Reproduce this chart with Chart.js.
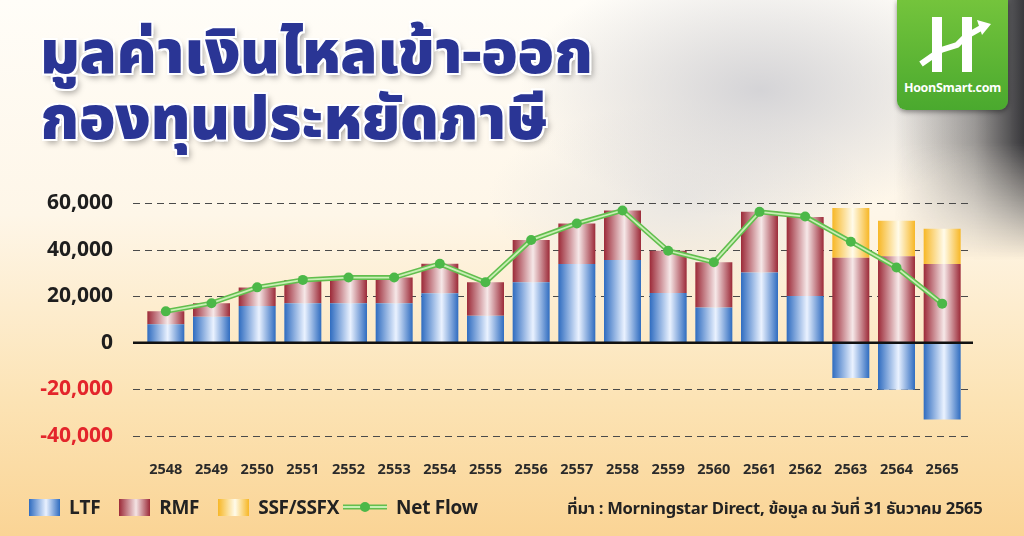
<!DOCTYPE html>
<html>
<head>
<meta charset="utf-8">
<script src="https://cdn.jsdelivr.net/npm/chart.js@4.4.0/dist/chart.umd.min.js"></script>
<style>
  html, body { margin: 0; padding: 0; }
  body { width: 1024px; height: 536px; overflow: hidden; font-family: "Noto Sans Thai", "Noto Sans", sans-serif; }
  .page {
    position: relative; width: 1024px; height: 536px;
    background: linear-gradient(to bottom, #fffdf8 0%, #fef6e8 40%, #fce3b4 75%, #fad495 100%);
  }
  .photo {
    position: absolute; left: 0; top: 0; width: 1024px; height: 300px;
    background:
      radial-gradient(ellipse 300px 160px at 760px 90px, rgba(205,205,210,0.85), rgba(225,225,225,0) 80%),
      radial-gradient(ellipse 240px 120px at 680px 200px, rgba(220,220,222,0.6), rgba(230,230,230,0) 80%);
  }
  .dark {
    position: absolute; right: 0; top: 0; width: 130px; height: 260px;
    background: linear-gradient(to left, rgba(35,35,40,0.9) 0px, rgba(60,60,65,0.5) 50px, rgba(90,90,90,0) 130px);
    -webkit-mask-image: linear-gradient(to bottom, #000 0%, #000 55%, transparent 100%);
    mask-image: linear-gradient(to bottom, #000 0%, #000 55%, transparent 100%);
  }
  .title {
    position: absolute; left: 40px; top: 22px; margin: 0;
    color: #2a3595; font-weight: 900; font-size: 60px; line-height: 66px;
    text-shadow: 2px 2px 0 #fff, -2px -2px 0 #fff, 2px -2px 0 #fff, -2px 2px 0 #fff, 3px 4px 6px rgba(0,0,0,0.35);
    white-space: nowrap;
  }
  .logo {
    position: absolute; left: 897px; top: 0; width: 111px; height: 110px;
    background: linear-gradient(to bottom, #74c43c, #4aa92e);
    border-radius: 0 0 9px 9px; box-shadow: 0 2px 5px rgba(0,0,0,0.4);
  }
  .logo span {
    position: absolute; left: 0; width: 111px; top: 79px; text-align: center;
    color: #fff; font-family: "Open Sans", sans-serif; font-weight: 700; font-size: 12.5px; letter-spacing: -0.3px;
  }
  .chartbox { position: absolute; left: 0; top: 0; width: 1024px; height: 536px; }
  .legend {
    position: absolute; left: 29px; top: 496px; height: 22px; display: flex; align-items: center;
    font-family: "Open Sans", sans-serif; font-weight: 700; font-size: 19px; color: #222; letter-spacing: -0.3px;
  }
  .legend .sw { width: 31px; height: 17px; margin-right: 9px; }
  .legend .item { display: flex; align-items: center; margin-right: 19px; }
  .source {
    position: absolute; left: 567px; top: 496px; font-weight: 700; font-size: 16.6px; color: #222; white-space: nowrap;
    letter-spacing: -0.3px;
  }
</style>
</head>
<body>
<div class="page">
  <div class="photo"></div>
  <div class="dark"></div>
  <h1 class="title">มูลค่าเงินไหลเข้า-ออก<br>กองทุนประหยัดภาษี</h1>
  <div class="logo">
    <svg width="111" height="80" viewBox="0 0 111 80">
      <rect x="35" y="17" width="10" height="55" fill="#fff"/>
      <rect x="65" y="17" width="10" height="55" fill="#fff"/>
      <polyline points="24,64 44,50 60,45 68,37 84,28" fill="none" stroke="#fff" stroke-width="6" stroke-linejoin="round"/>
      <polygon points="80,20 94,24 85,35" fill="#fff"/>
    </svg>
    <span>HoonSmart.com</span>
  </div>
  <div class="chartbox"><canvas id="flowChart"></canvas></div>
  <div class="legend">
    <div class="item"><div class="sw" style="background:linear-gradient(to right,#2f6cc0,#e9f1ff 55%,#2f6cc0)"></div>LTF</div>
    <div class="item"><div class="sw" style="background:linear-gradient(to right,#9c2a38,#f4e4e4 55%,#9c2a38)"></div>RMF</div>
    <div class="item" style="margin-right:3px"><div class="sw" style="background:linear-gradient(to right,#f7b726,#fffbea 55%,#f7b726)"></div>SSF/SSFX</div>
    <div class="item">
      <svg width="46" height="16" style="margin-right:8px"><line x1="1" y1="8" x2="45" y2="8" stroke="#62be4e" stroke-width="5"/><line x1="1" y1="8" x2="45" y2="8" stroke="#c8efb4" stroke-width="1.8"/><circle cx="23" cy="8" r="5" fill="#4cb848"/></svg>Net Flow
    </div>
  </div>
  <div class="source">ที่มา : Morningstar Direct, ข้อมูล ณ วันที่ 31 ธันวาคม 2565</div>
</div>

<script>
// years (Thai B.E.)
const years = ['2548','2549','2550','2551','2552','2553','2554','2555','2556','2557','2558','2559','2560','2561','2562','2563','2564','2565'];
// net flows, million baht
const ltf = [8000, 11200, 15800, 17000, 17000, 17000, 21300, 11600, 26000, 33800, 35500, 21400, 15200, 30200, 20100, -15100, -20100, -32900];
const rmf = [5500, 5800, 7900, 9900, 10600, 11000, 12600, 14400, 18100, 17400, 21300, 18100, 19400, 26000, 33900, 36500, 37100, 33800];
const ssf = [0, 0, 0, 0, 0, 0, 0, 0, 0, 0, 0, 0, 0, 0, 0, 21400, 15300, 15100];
const netFlow = [13500, 17000, 23800, 27000, 28000, 28000, 33900, 26000, 44100, 51200, 56800, 39500, 34600, 56200, 54200, 43400, 32300, 16800];
const yTicks = [-40000, -20000, 0, 20000, 40000, 60000];

const barPct = 0.81;

function barGradient(edge, mid) {
  return (ctx) => {
    const chart = ctx.chart;
    const xs = chart.scales.x;
    if (!xs || !chart.chartArea) return edge;
    const cx = xs.getPixelForValue(ctx.dataIndex);
    const w = (chart.chartArea.width / years.length) * barPct;
    const g = chart.ctx.createLinearGradient(cx - w / 2, 0, cx + w / 2, 0);
    g.addColorStop(0, edge);
    g.addColorStop(0.55, mid);
    g.addColorStop(1, edge);
    return g;
  };
}

// dashed grid lines a bit wider than the plot, solid zero line
const gridPlugin = {
  id: 'gridLines',
  beforeDatasetsDraw(chart) {
    const { ctx, chartArea, scales } = chart;
    ctx.save();
    ctx.strokeStyle = '#4a4a4a';
    ctx.lineWidth = 1.2;
    ctx.setLineDash([7, 5]);
    yTicks.forEach(v => {
      if (v === 0) return;
      const y = Math.round(scales.y.getPixelForValue(v)) + 0.5;
      ctx.beginPath();
      ctx.moveTo(chartArea.left - 10, y);
      ctx.lineTo(chartArea.right + 8, y);
      ctx.stroke();
    });
    ctx.restore();
  },
  afterDatasetsDraw(chart) {
    const { ctx, chartArea, scales } = chart;
    const y = scales.y.getPixelForValue(0);
    ctx.save();
    ctx.strokeStyle = '#111';
    ctx.lineWidth = 2.5;
    ctx.beginPath();
    ctx.moveTo(chartArea.left - 10, y);
    ctx.lineTo(chartArea.right + 8, y);
    ctx.stroke();
    ctx.restore();
  }
};

const config = {
  data: {
    labels: years,
    datasets: [
      { type: 'line', label: 'Net Flow', data: netFlow, stack: 'net', order: 0,
        borderColor: '#c8efb4', borderWidth: 1.8, pointRadius: 5, pointBackgroundColor: '#4cb848',
        pointBorderColor: '#4cb848', pointBorderWidth: 0 },
      { type: 'line', label: 'Net Flow edge', data: netFlow, stack: 'netEdge', order: 1,
        borderColor: '#62be4e', borderWidth: 5, pointRadius: 0 },
      { type: 'bar', label: 'LTF', data: ltf, stack: 'funds', order: 2,
        backgroundColor: barGradient('#2f6cc0', '#eaf2ff') },
      { type: 'bar', label: 'RMF', data: rmf, stack: 'funds', order: 2,
        backgroundColor: barGradient('#9c2a38', '#f6e8e8') },
      { type: 'bar', label: 'SSF/SSFX', data: ssf, stack: 'funds', order: 2,
        backgroundColor: barGradient('#f7b726', '#fffbea') }
    ]
  },
  options: {
    responsive: false,
    animation: false,
    datasets: { bar: { barPercentage: barPct, categoryPercentage: 1 } },
    layout: { padding: { top: 203, right: 59, bottom: 60, left: 0 } },
    plugins: { legend: { display: false }, tooltip: { enabled: false } },
    scales: {
      x: {
        stacked: true,
        grid: { display: false },
        border: { display: false },
        ticks: { color: '#2a2a2a', padding: 17, font: { family: 'Open Sans', weight: 'bold', size: 14.5 } },
        afterFit: (s) => { s.height = 40; }
      },
      y: {
        stacked: true,
        min: -40000, max: 60000,
        grid: { display: false, drawTicks: false },
        border: { display: false },
        afterBuildTicks: (s) => { s.ticks = yTicks.map(v => ({ value: v })); },
        ticks: {
          padding: 30,
          color: (c) => c.tick.value < 0 ? '#e3252b' : '#1e1e1e',
          font: { family: 'Open Sans', weight: 'bold', size: 21 },
          callback: (v) => v.toLocaleString('en-US')
        },
        afterFit: (s) => { s.width = 143; }
      }
    }
  },
  plugins: [gridPlugin]
};

const canvas = document.getElementById('flowChart');
canvas.width = 1024;
canvas.height = 536;
new Chart(canvas, config);
</script>
</body>
</html>
